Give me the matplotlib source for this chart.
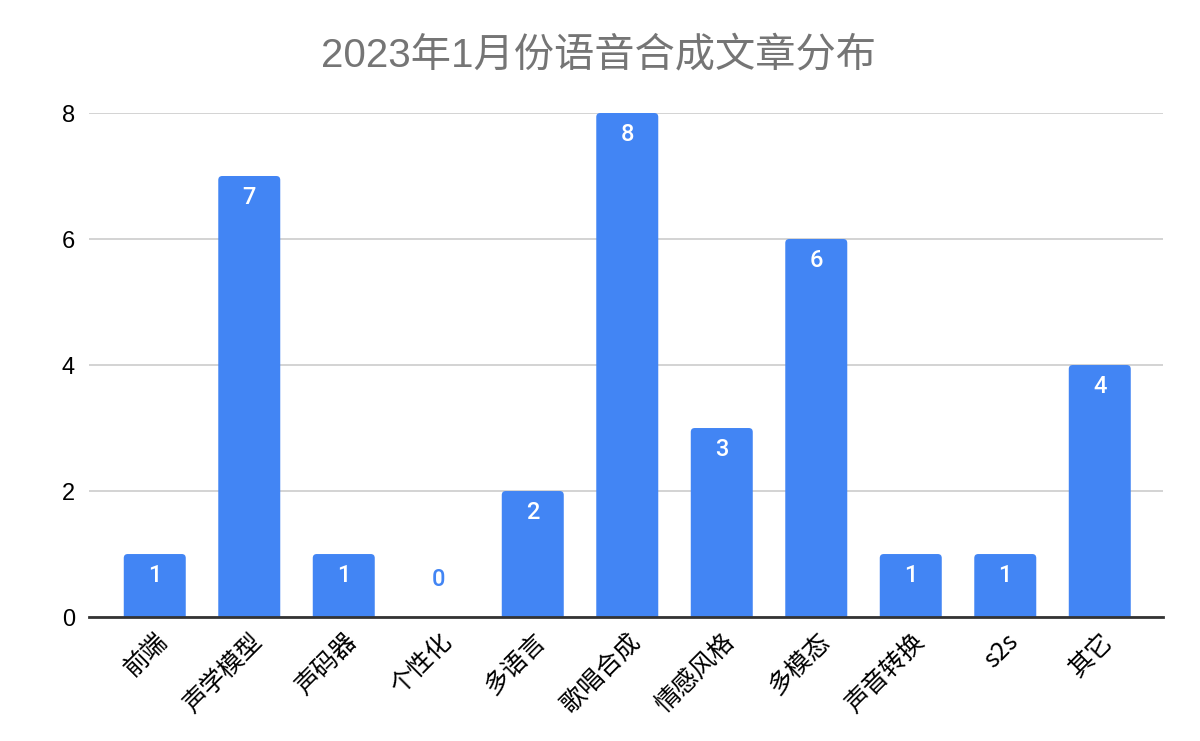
import matplotlib
matplotlib.use("Agg")
import matplotlib.pyplot as plt
from matplotlib.patches import FancyBboxPatch

categories = ["前端", "声学模型", "声码器", "个性化", "多语言", "歌唱合成", "情感风格", "多模态", "声音转换", "s2s", "其它"]
values = [1, 7, 1, 0, 2, 8, 3, 6, 1, 1, 4]
yticks = [0, 2, 4, 6, 8]
title = "2023年1月份语音合成文章分布"

bar_color = "#4285F4"

fig = plt.figure(figsize=(12, 7.41), dpi=100)
ax = fig.add_axes([0.074, 0.1673, 0.895, 0.6802])

ax.set_xlim(-0.698, 10.667)
ax.set_ylim(0, 8)

x = list(range(len(categories)))
bars = ax.bar(x, values, width=0.656, color=bar_color, zorder=3)

# replace with slightly rounded tops
px_per_x = 0.895 * 1200 / (10.667 + 0.698)
px_per_y = 0.6802 * 741 / 8
r_px = 4.0
rx = r_px / px_per_x
aspect = px_per_x / px_per_y
for b in bars:
    bx, by, bw, bh = b.get_x(), b.get_y(), b.get_width(), b.get_height()
    b.set_visible(False)
    if bh <= 0:
        continue
    ext = r_px / px_per_y
    p = FancyBboxPatch((bx + rx, by - ext), bw - 2 * rx, bh + ext - rx * aspect,
                       boxstyle=f"round,pad={rx},rounding_size={rx}",
                       mutation_aspect=aspect, facecolor=bar_color, edgecolor="none", zorder=3)
    ax.add_patch(p)

for xi, v in zip(x, values):
    if v > 0:
        ax.annotate(str(v), (xi, v), xytext=(0, -7), textcoords="offset points",
                    ha="center", va="top", color="white", fontsize=17,
                    family=["Roboto", "DejaVu Sans"], fontweight="medium", zorder=4)
    else:
        ax.annotate(str(v), (xi, v), xytext=(0, 27), textcoords="offset points",
                    ha="center", va="center", color=bar_color, fontsize=17,
                    family=["Roboto", "DejaVu Sans"], fontweight="medium", zorder=4)

ax.set_yticks(yticks)
ax.set_yticklabels([str(t) for t in yticks], family=["Liberation Sans", "DejaVu Sans"], fontsize=17)
ax.set_xticks(x)
ax.set_xticklabels(categories, rotation=45, ha="right", rotation_mode="anchor",
                   family=["Noto Sans CJK SC", "DejaVu Sans"], fontsize=18)
ax.tick_params(axis="both", length=0)
ax.tick_params(axis="y", pad=10)
ax.tick_params(axis="x", pad=8)

ax.grid(axis="y", color="#cccccc", linewidth=1.2, zorder=0)
for s in ["top", "right", "left"]:
    ax.spines[s].set_visible(False)
ax.spines["bottom"].set_color("#333333")
ax.spines["bottom"].set_linewidth(2)
ax.spines["bottom"].set_zorder(5)

fig.text(0.499, 0.925, title, ha="center", va="center", color="#757575", fontsize=29,
         family=["Liberation Sans", "Noto Sans CJK SC"])

fig.savefig("out.png", dpi=100, facecolor="white")
